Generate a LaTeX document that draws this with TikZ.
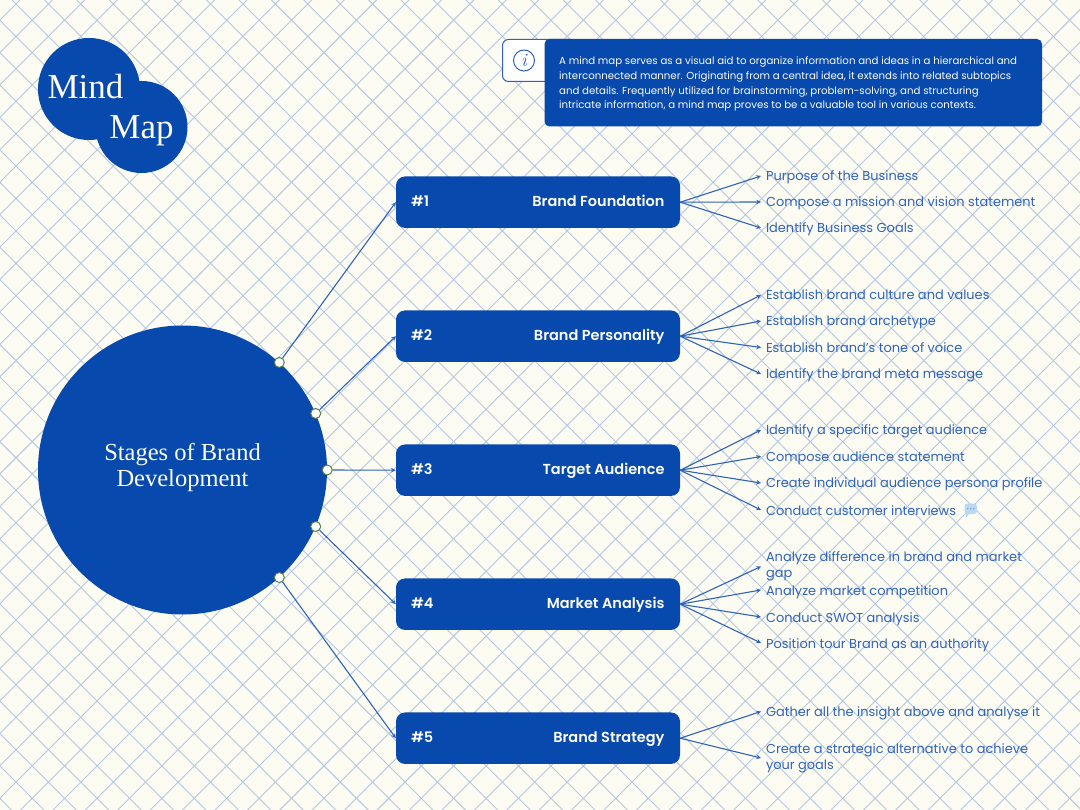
\documentclass[tikz,border=0pt]{standalone}
\usepackage{fontspec}
\setsansfont{Poppins}[BoldFont={Poppins SemiBold}]
\newfontfamily\titlefont{Liberation Serif}
\definecolor{paper}{HTML}{FDFCF3}
\definecolor{brandblue}{HTML}{0749AC}
\definecolor{linkblue}{HTML}{2F63B9}
\definecolor{gridblue}{HTML}{B4C6E2}
\definecolor{dotgreen}{HTML}{55803F}
\definecolor{bubble}{HTML}{BBD9F2}
\tikzset{
  gridline/.style={color=gridblue,line width=0.9pt},
  stagebox/.style={fill=brandblue,rounded corners=9pt,minimum width=284pt,minimum height=51.5pt,inner sep=0pt},
  numlabel/.style={anchor=west,inner sep=0pt,text=paper,text height=11pt,text depth=3pt,font=\sffamily\bfseries\fontsize{14.5}{16}\selectfont},
  namelabel/.style={anchor=east,inner sep=0pt,text=paper,text height=11pt,text depth=3pt,font=\sffamily\bfseries\fontsize{14.5}{16}\selectfont},
  leaf/.style={anchor=west,inner sep=0pt,outer xsep=5pt,text=linkblue,text height=12pt,text depth=2pt,font=\sffamily\fontsize{12.95}{16}\selectfont},
  leaftwo/.style={anchor=west,inner sep=0pt,outer xsep=5pt,text=linkblue,align=left,font=\sffamily\fontsize{12.95}{16}\selectfont},
  link/.style={color=linkblue,line width=1.1pt,->,>=stealth},
  dot/.style={circle,draw=dotgreen,fill=white,line width=1pt,minimum size=10pt,inner sep=0pt},
  titleword/.style={inner sep=0pt,text=paper,font=\titlefont\fontsize{35}{38}\selectfont}
}
\begin{document}
\begin{tikzpicture}[x=1pt,y=-1pt]
\useasboundingbox (0,0) rectangle (1080,810);
\fill[paper] (0,0) rectangle (1080,810);
\begin{scope}
\clip (0,0) rectangle (1080,810);
\foreach \k in {0,...,58}
\draw[gridline] (20+32.42*\k,0) -- (20+32.42*\k-900,900);
\foreach \k in {-26,...,33}
\draw[gridline] (12+32.42*\k,0) -- (12+32.42*\k+900,900);
\end{scope}

% title
\fill[brandblue] (89,89) circle (51);
\fill[brandblue] (141.5,127) circle (46);
\node[titleword] (mind) at (85.5,87) {Mind};
\node[titleword] (map) at (141.5,131) {Map};

% info panel
\draw[linkblue,fill=white,rounded corners=6pt,line width=1pt] (570,39.5) -- (502.5,39.5) -- (502.5,81.5) -- (570,81.5);
\node[circle,draw=linkblue,line width=1pt,minimum size=21pt,inner sep=0pt,text=linkblue,font=\itshape\fontsize{19}{19}\selectfont] (infoicon) at (524,60.5) {i};
\node[fill=brandblue,rounded corners=5pt,minimum width=497.5pt,minimum height=87.5pt,inner sep=0pt] (infobox) at (793.25,82.75) {};
\node[anchor=west,inner sep=0pt,text=paper,align=left,font=\sffamily\fontsize{10.2}{14.9}\selectfont] (infotext) at (559,84) {A mind map serves as a visual aid to organize information and ideas in a hierarchical and\\
interconnected manner. Originating from a central idea, it extends into related subtopics\\
and details. Frequently utilized for brainstorming, problem-solving, and structuring\\
intricate information, a mind map proves to be a valuable tool in various contexts.};

% centre
\node[circle,fill=brandblue,minimum size=289pt,inner sep=0pt] (hub) at (182.5,470) {};
\node[inner sep=0pt,text=paper,align=center,font=\titlefont\fontsize{24.5}{26}\selectfont] (hubtext) at (182.5,467) {Stages of Brand\\Development};

% stages
\foreach \n/\y/\name in {1/202.2/Brand Foundation,2/336.2/Brand Personality,3/470.2/Target Audience,4/604.2/Market Analysis,5/738.2/Brand Strategy} {
\node[stagebox] (b\n) at (538,\y) {};
\node[numlabel] (num\n) at ([xshift=15pt]b\n.west) {\#\n};
\node[namelabel] (name\n) at ([xshift=-15.5pt]b\n.east) {\name};
}

\foreach \n/\a in {1/48,2/23,3/0,4/-23,5/-48} {
\node[dot] (d\n) at (hub.\a) {};
\draw[link] (d\n) -- (b\n.west);
}

% leaves
\foreach \b/\n/\y/\txt in {1/1/176/Purpose of the Business,1/2/202/Compose a mission and vision statement,1/3/228/Identify Business Goals,
2/1/295/Establish brand culture and values,2/2/321/Establish brand archetype,2/3/347.5/Establish brand's tone of voice,2/4/374/Identify the brand meta message,
3/1/430/Identify a specific target audience,3/2/456.5/Compose audience statement,3/3/483/Create individual audience persona profile,3/4/510/Conduct customer interviews,
4/2/590/Analyze market competition,4/3/617/Conduct SWOT analysis,4/4/643/Position tour Brand as an authority,
5/1/711.5/Gather all the insight above and analyse it} {
\node[leaf] (l\b\n) at (761,\y) {\txt};
\draw[link] (b\b.east) -- (l\b\n.west);
}
\node[leaftwo] (l41) at (761,566.5) {Analyze difference in brand and market\\gap};
\draw[link] (b4.east) -- (l41.west);
\node[leaftwo] (l52) at (761,758) {Create a strategic alternative to achieve\\your goals};
\draw[link] (b5.east) -- (l52.west);

% chat bubble
\fill[bubble,rounded corners=3pt] (964.5,503.5) rectangle (977,514);
\fill[bubble] (966,513) -- (966,517) -- (970,513) -- cycle;
\foreach \x in {967.8,970.8,973.8}
\fill[linkblue!70] (\x,508.7) circle (0.7);
\end{tikzpicture}
\end{document}
